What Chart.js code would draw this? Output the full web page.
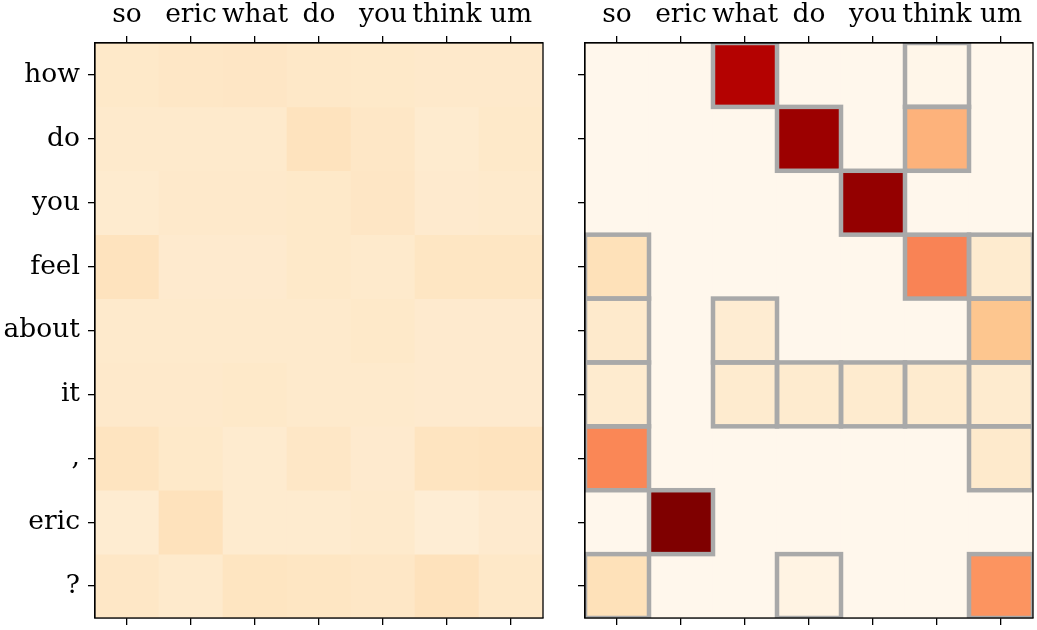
<!DOCTYPE html>
<html>
<head>
<meta charset="utf-8">
<script src="https://cdn.jsdelivr.net/npm/chart.js@4/dist/chart.umd.min.js"></script>
<style>
  html, body { margin: 0; padding: 0; background: #fff; }
  #wrap { position: relative; width: 1037px; height: 630px; }
  canvas { position: absolute; top: 0; }
</style>
</head>
<body>
<div id="wrap">
  <canvas id="leftChart" width="560" height="630" style="left:0;width:560px;height:630px"></canvas>
  <canvas id="rightChart" width="477" height="630" style="left:560px;width:477px;height:630px"></canvas>
</div>
<script>
var xLabels = ['so', 'eric', 'what', 'do', 'you', 'think', 'um'];
var yLabels = ['how', 'do', 'you', 'feel', 'about', 'it', ',', 'eric', '?'];

// left: soft attention, one row per y label
var leftValues = [
  [0.12, 0.13, 0.135, 0.125, 0.12, 0.115, 0.115],
  [0.11, 0.11, 0.11, 0.155, 0.13, 0.1, 0.12],
  [0.1, 0.115, 0.115, 0.12, 0.135, 0.105, 0.11],
  [0.155, 0.105, 0.105, 0.12, 0.11, 0.14, 0.14],
  [0.11, 0.11, 0.11, 0.11, 0.12, 0.105, 0.105],
  [0.115, 0.115, 0.12, 0.11, 0.11, 0.105, 0.105],
  [0.15, 0.12, 0.1, 0.13, 0.105, 0.15, 0.155],
  [0.095, 0.16, 0.1, 0.1, 0.11, 0.085, 0.105],
  [0.13, 0.11, 0.145, 0.14, 0.13, 0.16, 0.125]
];

// right: sparse alignment
var rightValues = [
  [0, 0, 0.87, 0, 0, 0.01, 0],
  [0, 0, 0, 0.93, 0, 0.4, 0],
  [0, 0, 0, 0, 0.95, 0, 0],
  [0.17, 0, 0, 0, 0, 0.53, 0.1],
  [0.11, 0, 0.09, 0, 0, 0, 0.32],
  [0.1, 0, 0.1, 0.1, 0.1, 0.1, 0.1],
  [0.52, 0, 0, 0, 0, 0, 0.11],
  [0, 1.0, 0, 0, 0, 0, 0],
  [0.17, 0, 0, 0.03, 0, 0, 0.48]
];

// [row, col] of outlined cells
var rightBoxed = [
  [0, 2], [0, 5],
  [1, 3], [1, 5],
  [2, 4],
  [3, 0], [3, 5], [3, 6],
  [4, 0], [4, 2], [4, 6],
  [5, 0], [5, 2], [5, 3], [5, 4], [5, 5], [5, 6],
  [6, 0], [6, 6],
  [7, 1],
  [8, 0], [8, 3], [8, 6]
];

var orrd = ['#fff7ec', '#fee8c8', '#fdd49e', '#fdbb84', '#fc8d59', '#ef6548', '#d7301f', '#b30000', '#7f0000'];

function hexRgb(h) {
  return [parseInt(h.substr(1, 2), 16), parseInt(h.substr(3, 2), 16), parseInt(h.substr(5, 2), 16)];
}

function colorFor(v) {
  var t = Math.max(0, Math.min(1, v)) * 8;
  var i = Math.min(7, Math.floor(t));
  var f = t - i;
  var a = hexRgb(orrd[i]), b = hexRgb(orrd[i + 1]);
  var c = a.map(function(x, k) { return Math.round(x + (b[k] - x) * f); });
  return 'rgb(' + c.join(',') + ')';
}

var tickFont = { family: 'DejaVu Serif', size: 26.5 };

var boxPlugin = {
  id: 'boxes',
  afterDatasetsDraw: function(chart, args, opts) {
    var ctx = chart.ctx, a = chart.chartArea;
    ctx.save();
    ctx.beginPath();
    ctx.rect(a.left, a.top, a.right - a.left, a.bottom - a.top);
    ctx.clip();
    ctx.strokeStyle = '#a9a9a9';
    ctx.lineWidth = 4.5;
    (opts.cells || []).forEach(function(rc) {
      var bar = chart.getDatasetMeta(rc[0]).data[rc[1]];
      var p = bar.getProps(['x', 'y', 'base', 'width'], true);
      var top = Math.min(p.y, p.base);
      ctx.strokeRect(p.x - p.width / 2, top, p.width, Math.abs(p.y - p.base));
    });
    ctx.restore();
    ctx.save();
    ctx.strokeStyle = '#000';
    ctx.lineWidth = 1.3;
    ctx.strokeRect(a.left, a.top, a.right - a.left, a.bottom - a.top);
    ctx.restore();
  }
};

function makeChart(id, values, boxed, showY, yWidth, rightPad) {
  var gridOpts = { offset: false, drawOnChartArea: false, color: '#000', lineWidth: 1.3, tickLength: 7 };
  return new Chart(document.getElementById(id), {
    type: 'bar',
    data: {
      labels: xLabels,
      datasets: yLabels.map(function(lab, r) {
        return {
          label: lab,
          data: xLabels.map(function() { return [r, r + 1]; }),
          backgroundColor: values[r].map(colorFor),
          borderWidth: 0,
          grouped: false,
          barPercentage: 1,
          categoryPercentage: 1
        };
      })
    },
    options: {
      responsive: false,
      animation: false,
      layout: { padding: { left: 0, right: rightPad, top: 0, bottom: 0 } },
      plugins: {
        legend: { display: false },
        tooltip: { enabled: false },
        boxes: { cells: boxed }
      },
      scales: {
        x: {
          type: 'category',
          position: 'top',
          offset: true,
          grid: gridOpts,
          border: { display: true, color: '#000', width: 1.3 },
          ticks: { color: '#000', font: tickFont, padding: 5, maxRotation: 0, autoSkip: false },
          afterFit: function(s) { s.height = 43; s.paddingLeft = 0; s.paddingRight = 0; }
        },
        x2: {
          type: 'category',
          labels: xLabels,
          position: 'bottom',
          offset: true,
          grid: gridOpts,
          border: { display: true, color: '#000', width: 1.3 },
          ticks: { display: false },
          afterFit: function(s) { s.height = 12; s.paddingLeft = 0; s.paddingRight = 0; }
        },
        y: {
          type: 'linear',
          min: 0,
          max: 9,
          reverse: true,
          grid: gridOpts,
          border: { display: true, color: '#000', width: 1.3 },
          afterBuildTicks: function(s) {
            s.ticks = yLabels.map(function(l, i) { return { value: i + 0.5 }; });
          },
          ticks: {
            color: '#000',
            font: tickFont,
            padding: 8,
            callback: function(v, i) { return showY ? yLabels[i] : ''; }
          },
          afterFit: function(s) { s.width = yWidth; s.paddingTop = 0; s.paddingBottom = 0; }
        }
      }
    },
    plugins: [boxPlugin]
  });
}

makeChart('leftChart', leftValues, [], true, 95, 17);
makeChart('rightChart', rightValues, rightBoxed, false, 25, 4);
</script>
</body>
</html>
